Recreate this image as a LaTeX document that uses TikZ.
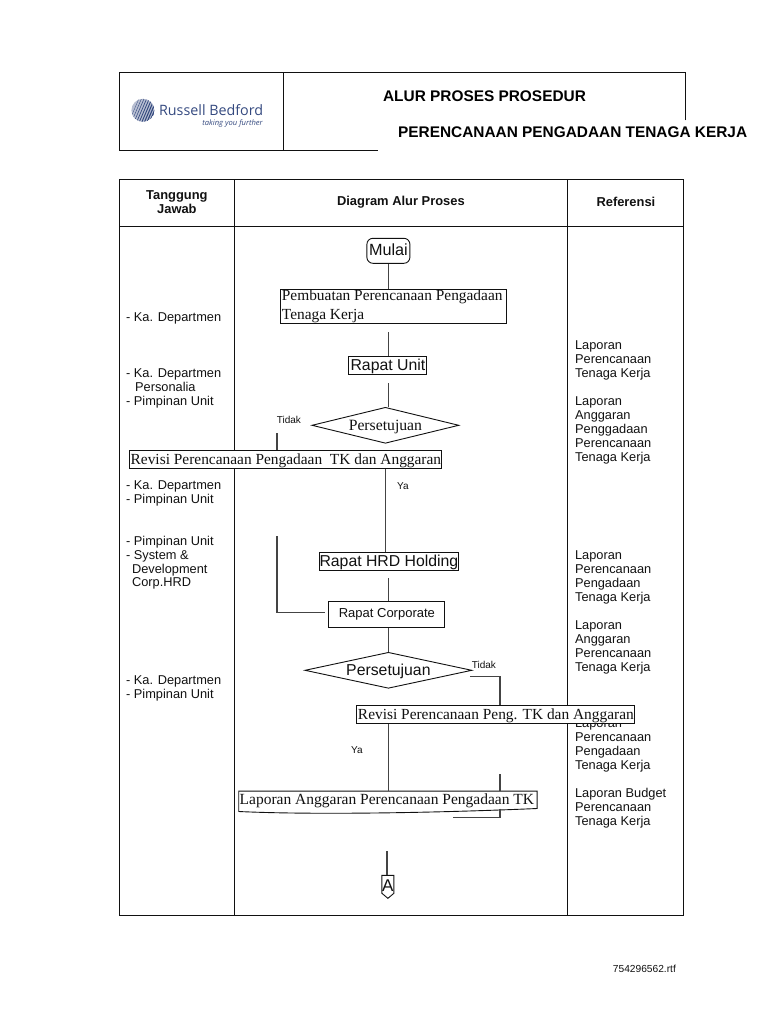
\documentclass[tikz,border=0pt]{standalone}
\usepackage{fontspec}
\setmainfont{Liberation Sans}
\newfontfamily\serifff{Liberation Serif}
\newfontfamily\logoff{Open Sans}
\usetikzlibrary{shapes.geometric}
\definecolor{logoblue}{HTML}{34497F}
\definecolor{ink}{HTML}{111111}
\definecolor{conn}{HTML}{444444}
\newcommand{\fs}[1]{\fontsize{#1}{#1}\selectfont}
\tikzset{
  frame/.style={draw=ink,line width=0.9pt},
  conline/.style={draw=conn,line width=1.3pt},
  txt/.style={anchor=base west,inner sep=0pt,text=ink,font=\fs{12.8}},
  head/.style={inner sep=0pt,text=ink,font=\fs{12.9}\bfseries,align=center},
  title/.style={anchor=base west,inner sep=0pt,text=black,font=\fs{15.4}\bfseries},
  small/.style={inner sep=0pt,text=ink,font=\fs{10}},
  bigbox/.style={draw=ink,fill=white,line width=0.9pt,inner sep=0pt,text=ink,font=\fs{15.8},text height=10pt,text depth=0pt},
  serifbox/.style={draw=ink,fill=white,line width=0.9pt,inner sep=0pt,text=ink,font=\serifff\fs{15.4},text height=10pt,text depth=0pt},
  dec/.style={draw=ink,fill=white,line width=0.9pt,diamond,inner sep=0pt,aspect=4,text=ink,text height=10pt,text depth=0pt}
}
\begin{document}
\begin{tikzpicture}[x=1pt,y=-1pt]
\useasboundingbox (0,0) rectangle (768,1024);
\begin{scope}[shift={(-0.1,0.3)}]
% header
\coordinate (h1) at (120,72); \coordinate (h2) at (686,72); \coordinate (h3) at (686,120);
\coordinate (h4) at (378,150); \coordinate (h5) at (120,150);
\coordinate (h6) at (284,72); \coordinate (h7) at (284,150);
\draw[frame] (h3) -- (h2) -- (h1) -- (h5) -- (h4);
\draw[frame] (h6) -- (h7);
\node[title] (t1) at (383,101) {ALUR PROSES PROSEDUR};
\node[title] (t2) at (398,137) {PERENCANAAN PENGADAAN TENAGA KERJA};
% logo
\begin{scope}
\clip (143,110) circle (11.5);
\fill[logoblue!35] (131,98) rectangle (155,122);
\foreach \i in {0,...,11}{
  \pgfmathsetmacro{\w}{0.3+0.13*\i}
  \draw[logoblue,line width=\w pt] (128+2.6*\i,124) -- (140+2.6*\i,96);
}
\end{scope}
\node[anchor=base west,inner sep=0pt,text=logoblue,font=\logoff\fs{14.3}] (lg1) at (159,115.5) {Russell Bedford};
\node[anchor=base east,inner sep=0pt,text=logoblue,font=\logoff\itshape\fs{7.6}] (lg2) at (263,125) {taking you further};
% table
\coordinate (a1) at (120,179); \coordinate (a2) at (684,915);
\draw[frame] (a1) rectangle (a2);
\coordinate (a3) at (120,226); \coordinate (a4) at (684,226);
\draw[frame,line width=1.1pt] (a3) -- (a4);
\coordinate (c1) at (235,179); \coordinate (c2) at (235,915);
\coordinate (c3) at (568,179); \coordinate (c4) at (568,915);
\draw[frame] (c1) -- (c2); \draw[frame] (c3) -- (c4);
\node[head] (hh1) at (177,202) {Tanggung\\[1pt]Jawab};
\node[head] (hh2) at (401,202) {Diagram Alur Proses};
\node[head] (hh3) at (626,202) {Referensi};
% left column
\node[txt] (l1) at (126,321) {- Ka. Departmen};
\node[txt] (l2) at (126,377) {- Ka. Departmen};
\node[txt] (l3) at (135,391) {Personalia};
\node[txt] (l4) at (126,405) {- Pimpinan Unit};
\node[txt] (l5) at (126,489) {- Ka. Departmen};
\node[txt] (l6) at (126,503) {- Pimpinan Unit};
\node[txt] (l7) at (126,545) {- Pimpinan Unit};
\node[txt] (l8) at (126,559) {- System \&};
\node[txt] (l9) at (132,573) {Development};
\node[txt] (l10) at (132,586) {Corp.HRD};
\node[txt] (l11) at (126,684) {- Ka. Departmen};
\node[txt] (l12) at (126,698) {- Pimpinan Unit};
% right column
\node[txt] (r1) at (575,349) {Laporan};
\node[txt] (r2) at (575,363) {Perencanaan};
\node[txt] (r3) at (575,377) {Tenaga Kerja};
\node[txt] (r4) at (575,405) {Laporan};
\node[txt] (r5) at (575,419) {Anggaran};
\node[txt] (r6) at (575,433) {Penggadaan};
\node[txt] (r7) at (575,447) {Perencanaan};
\node[txt] (r8) at (575,461) {Tenaga Kerja};
\node[txt] (r9) at (575,559) {Laporan};
\node[txt] (r10) at (575,573) {Perencanaan};
\node[txt] (r11) at (575,587) {Pengadaan};
\node[txt] (r12) at (575,601) {Tenaga Kerja};
\node[txt] (r13) at (575,629) {Laporan};
\node[txt] (r14) at (575,643) {Anggaran};
\node[txt] (r15) at (575,657) {Perencanaan};
\node[txt] (r16) at (575,671) {Tenaga Kerja};
\node[txt] (r17) at (575,727) {Laporan};
\node[txt] (r18) at (575,741) {Perencanaan};
\node[txt] (r19) at (575,755) {Pengadaan};
\node[txt] (r20) at (575,769) {Tenaga Kerja};
\node[txt] (r21) at (575,797) {Laporan Budget};
\node[txt] (r22) at (575,811) {Perencanaan};
\node[txt] (r23) at (575,825) {Tenaga Kerja};
% flow nodes
\node[bigbox,rounded corners=6pt,minimum width=43pt,minimum height=25pt,font=\fs{16.2}] (mulai) at (388.5,250.5) {Mulai};
\node[draw=ink,fill=white,line width=0.9pt,inner sep=0pt,text=ink,font=\serifff\fs{15.4},minimum width=226pt,minimum height=34pt,align=left] (buat) at (394,306) {\parbox{224pt}{\baselineskip=16.5pt Pembuatan Perencanaan Pengadaan\\Tenaga Kerja\vphantom{g}\rule{0pt}{14pt}}};
\node[bigbox,minimum width=78pt,minimum height=18pt] (unit) at (388,365) {Rapat Unit};
\node[dec,minimum width=147pt,minimum height=36pt,font=\serifff\fs{15.7}] (dec1) at (385.5,425) {Persetujuan};
\node[serifbox,minimum width=312pt,minimum height=18pt] (rev1) at (286,459) {Revisi Perencanaan Pengadaan\ \ TK dan Anggaran};
\node[bigbox,minimum width=138pt,minimum height=18pt] (hrd) at (389,561) {Rapat HRD Holding};
\node[draw=ink,fill=white,line width=0.9pt,inner sep=0pt,text=ink,font=\fs{13},minimum width=116pt,minimum height=26pt] (corp) at (387,614) {Rapat Corporate};
\node[dec,minimum width=167pt,minimum height=36pt,font=\fs{15.8}] (dec2) at (388.5,670) {Persetujuan};
\node[serifbox,minimum width=278pt,minimum height=18pt] (rev2) at (496,714) {Revisi Perencanaan Peng. TK dan Anggaran};
\node[inner sep=0pt,minimum width=298pt,minimum height=17pt] (lap) at (388,799.5) {};
\draw[frame,fill=white] (lap.north west) -- (lap.north east) -- (lap.south east)
   .. controls (450,812) and (320,815) .. ([yshift=-3pt]lap.south west) -- cycle;
\node[inner sep=0pt,text=ink,font=\serifff\fs{15.5},text height=10pt,text depth=0pt] (laptxt) at (387,799.5) {Laporan Anggaran Perencanaan Pengadaan TK};
\coordinate (an) at (387,875);
\draw[frame,fill=white] (382,875) -- (394,875) -- (394,893) -- (388,898) -- (382,893) -- cycle;
\node[inner sep=0pt,text=ink,font=\fs{17}] (A) at (388,885) {A};
% labels
\node[small] (tid1) at (289,419.5) {Tidak};
\node[small] (ya1) at (403,486) {Ya};
\node[small] (tid2) at (484,665) {Tidak};
\node[small] (ya2) at (357,749.5) {Ya};
% connectors
\coordinate (p1) at (388.5,332); \coordinate (p2) at (388.5,383);
\coordinate (p3) at (277,433); \coordinate (p4) at (277,536); \coordinate (p5) at (277,612);
\coordinate (p6) at (325,612); \coordinate (p7) at (388.5,578);
\coordinate (p8) at (470,676); \coordinate (p9) at (500,676);
\coordinate (p10) at (500,774); \coordinate (p11) at (500,817); \coordinate (p12) at (453,817);
\coordinate (p13) at (387,851);
\draw[conline] (mulai.south) -- (mulai.south |- buat.north);
\draw[conline] (p1) -- (p1 |- unit.north);
\draw[conline] (p2) -- (dec1.north -| p2);
\draw[conline] (p3) -- (p3 |- rev1.north);
\draw[conline] (rev1.south -| dec1.south) -- (dec1.south |- hrd.north);
\draw[conline] (p7) -- (p7 |- corp.north);
\draw[conline] (p4) -- (p5) -- (p6);
\draw[conline] (p7 |- corp.south) -- (p7 |- dec2.north);
\draw[conline] (p8) -- (p9) -- (p9 |- rev2.north);
\draw[conline] (p7 |- rev2.south) -- (p7 |- lap.north);
\draw[conline] (p10) -- (p10 |- lap.north);
\draw[conline] (p10 |- lap.south) -- (p11) -- (p12);
\draw[conline] (p13) -- (an);
% footer
\node[inner sep=0pt,text=ink,font=\fs{10.2}] (foot) at (644.5,969) {754296562.rtf};
\end{scope}
\end{tikzpicture}
\end{document}
